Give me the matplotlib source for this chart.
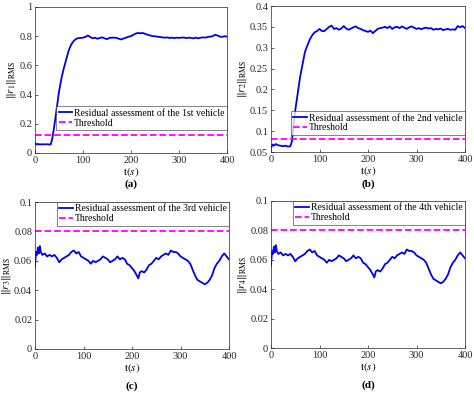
import numpy as np
import matplotlib
matplotlib.use("Agg")
import matplotlib.pyplot as plt

plt.rcParams['font.family'] = ['Liberation Serif', 'DejaVu Serif']
plt.rcParams['mathtext.fontset'] = 'stix'

# data
t_a = [0, 3, 6, 10, 15, 20, 25, 30, 33, 36, 40, 45, 50, 55, 60, 65, 70, 75, 80, 85, 90, 95,
       100, 105, 110, 115, 120, 125, 130, 135, 140, 145, 150, 155, 160, 165, 170, 175, 180,
       185, 190, 195, 200, 205, 210, 215, 220, 225, 230, 235, 240, 245, 250, 255, 260, 265,
       270, 275, 280, 285, 290, 295, 300, 305, 310, 315, 320, 325, 330, 335, 340, 345, 350,
       355, 360, 365, 370, 375, 380, 385, 390, 395, 400]
res_1 = [0.07, 0.058, 0.062, 0.058, 0.06, 0.059, 0.06, 0.058, 0.06, 0.10, 0.18, 0.30, 0.42,
         0.51, 0.58, 0.64, 0.70, 0.74, 0.765, 0.78, 0.787, 0.788, 0.79, 0.795, 0.805, 0.795,
         0.785, 0.79, 0.782, 0.788, 0.792, 0.785, 0.78, 0.788, 0.79, 0.79, 0.788, 0.782,
         0.778, 0.785, 0.79, 0.797, 0.80, 0.81, 0.818, 0.822, 0.82, 0.822, 0.815, 0.81,
         0.805, 0.80, 0.80, 0.796, 0.795, 0.792, 0.79, 0.792, 0.788, 0.79, 0.787, 0.79,
         0.788, 0.79, 0.791, 0.787, 0.79, 0.788, 0.785, 0.79, 0.785, 0.79, 0.792, 0.79,
         0.795, 0.797, 0.80, 0.81, 0.805, 0.798, 0.795, 0.80, 0.797]
thr_1 = 0.12

t_b = [0, 3, 6, 10, 15, 20, 25, 30, 35, 40, 43, 46, 50, 55, 60, 65, 70, 75, 80, 85, 90, 95,
       100, 105, 110, 115, 120, 125, 130, 135, 140, 145, 150, 155, 160, 165, 170, 175, 180,
       185, 190, 195, 200, 205, 210, 215, 220, 225, 230, 235, 240, 245, 250, 255, 260, 265,
       270, 275, 280, 285, 290, 295, 300, 305, 310, 315, 320, 325, 330, 335, 340, 345, 350,
       355, 360, 365, 370, 375, 380, 385, 390, 395, 400]
res_2 = [0.06, 0.068, 0.065, 0.069, 0.066, 0.065, 0.064, 0.065, 0.063, 0.064, 0.075, 0.11,
         0.15, 0.19, 0.23, 0.26, 0.29, 0.305, 0.32, 0.33, 0.337, 0.34, 0.345, 0.34, 0.34,
         0.345, 0.35, 0.353, 0.345, 0.347, 0.343, 0.346, 0.352, 0.346, 0.343, 0.346, 0.349,
         0.351, 0.347, 0.345, 0.342, 0.34, 0.338, 0.341, 0.335, 0.34, 0.345, 0.347, 0.348,
         0.35, 0.347, 0.351, 0.345, 0.349, 0.35, 0.347, 0.351, 0.348, 0.345, 0.349, 0.351,
         0.348, 0.345, 0.347, 0.344, 0.347, 0.348, 0.346, 0.347, 0.343, 0.345, 0.344, 0.346,
         0.342, 0.344, 0.345, 0.343, 0.344, 0.343, 0.352, 0.349, 0.352, 0.347]
thr_2 = 0.08

t_c = [0, 2, 4, 6, 8, 10, 12, 15, 20, 25, 30, 35, 40, 45, 50, 55, 60, 65, 70, 75, 80, 85,
       90, 95, 100, 105, 110, 115, 120, 125, 130, 135, 140, 145, 150, 155, 160, 165, 170,
       175, 180, 185, 190, 195, 200, 205, 210, 213, 216, 220, 225, 230, 235, 240, 245, 250,
       255, 260, 265, 270, 275, 280, 285, 290, 295, 300, 305, 310, 315, 320, 325, 330, 335,
       340, 345, 350, 355, 360, 365, 370, 375, 380, 385, 390, 395, 400]
res_3 = [0.056, 0.066, 0.064, 0.069, 0.065, 0.07, 0.066, 0.064, 0.065, 0.063, 0.064, 0.063,
         0.064, 0.062, 0.059, 0.061, 0.062, 0.063, 0.064, 0.066, 0.067, 0.065, 0.066, 0.063,
         0.062, 0.061, 0.06, 0.058, 0.06, 0.059, 0.06, 0.061, 0.063, 0.062, 0.061, 0.059,
         0.06, 0.061, 0.063, 0.061, 0.062, 0.061, 0.058, 0.057, 0.055, 0.053, 0.05, 0.048,
         0.052, 0.053, 0.052, 0.054, 0.057, 0.058, 0.06, 0.062, 0.061, 0.063, 0.064, 0.065,
         0.064, 0.067, 0.066, 0.066, 0.065, 0.063, 0.062, 0.061, 0.06, 0.058, 0.054, 0.05,
         0.047, 0.046, 0.045, 0.044, 0.045, 0.047, 0.05, 0.055, 0.058, 0.06, 0.063, 0.065,
         0.063, 0.061]
thr_3 = 0.08

t_d = t_c
res_4 = res_3
thr_4 = 0.08

W, H = 474, 393
fig = plt.figure(figsize=(W / 100, H / 100), dpi=100)


def add_ax(l, r, top, bot):
    return fig.add_axes([l / W, 1 - bot / H, (r - l) / W, (bot - top) / H])


panels = [
    (add_ax(35, 227, 7, 153), t_a, res_1, thr_1, '1st', 1, (0, 1), [0, 0.2, 0.4, 0.6, 0.8, 1],
     ['0', '0.2', '0.4', '0.6', '0.8', '1'], dict(loc='lower right', bbox_to_anchor=(1, 0.157)),
     '(a)', 131, 184),
    (add_ax(271, 465, 6, 152), t_b, res_2, thr_2, '2nd', 2, (0.05, 0.4),
     [0.05, 0.1, 0.15, 0.2, 0.25, 0.3, 0.35, 0.4],
     ['0.05', '0.1', '0.15', '0.2', '0.25', '0.3', '0.35', '0.4'],
     dict(loc='lower right', bbox_to_anchor=(1, 0.117)), '(b)', 368, 184),
    (add_ax(35, 229, 202, 349), t_c, res_3, thr_3, '3rd', 3, (0, 0.1),
     [0, 0.02, 0.04, 0.06, 0.08, 0.1], ['0', '0.02', '0.04', '0.06', '0.08', '0.1'],
     dict(loc='upper right', bbox_to_anchor=(1, 1)), '(c)', 132, 386),
    (add_ax(271, 465, 201, 348), t_d, res_4, thr_4, '4th', 4, (0, 0.1),
     [0, 0.02, 0.04, 0.06, 0.08, 0.1], ['0', '0.02', '0.04', '0.06', '0.08', '0.1'],
     dict(loc='upper right', bbox_to_anchor=(1, 1)), '(d)', 368, 385),
]

for ax, t, r, thr, nth, k, ylim, yt, ytl, legkw, tag, tx, ty in panels:
    ax.plot(t, r, color='#0000ee', lw=1.3, label='Residual assessment of the %s vehicle' % nth)
    ax.plot([0, 400], [thr, thr], '--', color='#ff00ff', lw=1.3, label='Threshold')
    ax.set_xlim(0, 400)
    ax.set_ylim(*ylim)
    ax.set_xticks([0, 100, 200, 300, 400])
    ax.set_yticks(yt)
    ax.set_yticklabels(ytl)
    ax.tick_params(direction='in', labelsize=7.5, length=2.5, width=0.5, colors='#262626',
                   top=False, right=False, pad=2)
    for s in ax.spines.values():
        s.set_linewidth(0.5)
        s.set_color('#262626')
    ax.set_xlabel(r'$\mathrm{t}(s)$', fontsize=8, labelpad=0)
    ax.set_ylabel(r'$\|r_%d\|_{\mathrm{RMS}}$' % k, fontsize=8, labelpad=1)
    leg = ax.legend(fontsize=7, frameon=True, fancybox=False, borderaxespad=0,
                    handlelength=1.4, handletextpad=0.2, borderpad=0.25, labelspacing=0.1,
                    edgecolor='#262626', **legkw)
    leg.get_frame().set_linewidth(0.5)
    fig.text(tx / W, 1 - ty / H, tag, ha='center', va='center', fontsize=8,
             fontweight='bold')

fig.savefig('out.png', dpi=100)
